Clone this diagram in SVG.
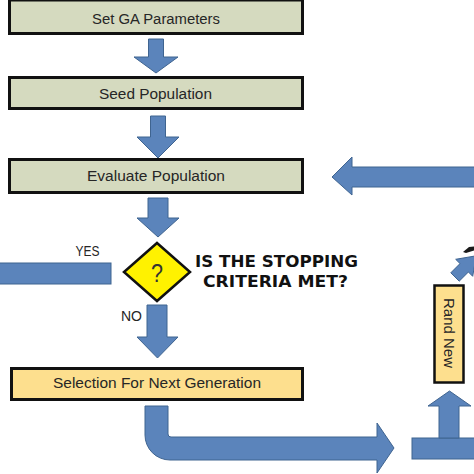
<svg xmlns="http://www.w3.org/2000/svg" width="474" height="474" viewBox="0 0 474 474">
<style>
.box{stroke:#111;stroke-width:3}
.g{fill:#D5DABF}
.o{fill:#FDDF8E}
.arr{fill:#5B84BB;stroke:#3F6490;stroke-width:1;stroke-linejoin:miter}
.lbl{font-family:"Liberation Sans",Arial,sans-serif;font-size:14px;fill:#262626;text-anchor:middle}
.q{font-family:"DejaVu Sans","Liberation Sans",sans-serif;font-weight:bold;font-size:15px;fill:#111;text-anchor:middle}
</style>
<rect width="474" height="474" fill="#ffffff"/>
<g id="connectors">
<polygon class="arr" points="148.5,39 163.5,39 163.5,57 178,57 156,73 134,57 148.5,57"/>
<polygon class="arr" points="150.5,116 165.5,116 165.5,137 179,137 158,158 137,137 150.5,137"/>
<polygon class="arr" points="148,198 168,198 168,218 179,218 158,237 137,218 148,218"/>
<polygon class="arr" points="147,305 167,305 167,337 178,337 157.5,358 137,337 147,337"/>
<polygon class="arr" points="475,167 352,167 352,157 332,177 352,195 352,187 475,187"/>
<rect class="arr" x="-1" y="263" width="112" height="21"/>
<path class="arr" d="M145,406 L168,406 L168,434 Q168,437 171,437 L377,437 L377,423 L394,448 L377,473 L377,460 L170,460 A25,25 0 0 1 145,435 Z"/>
<rect class="arr" x="412" y="438" width="63" height="21"/>
<polygon class="arr" points="439,438 459,438 459,406 471,406 449.5,391 428,406 439,406"/>
<polygon class="arr" points="459.2,281.2 450.8,272.8 460,263.6 455.7,259.3 476.2,255.8 472.7,276.3 468.4,272"/>
<polygon points="463,252 469,247 474,246.5 474,250.5 466,253" fill="#1a1a1a"/>
</g>
<g id="n1"><rect class="box g" x="9.5" y="0" width="293" height="33.5"/><text class="lbl" x="156" y="24" textLength="128" lengthAdjust="spacingAndGlyphs">Set GA Parameters</text></g>
<g id="n2"><rect class="box g" x="9.5" y="77.5" width="293" height="31"/><text class="lbl" x="155.5" y="98.5" textLength="113" lengthAdjust="spacingAndGlyphs">Seed Population</text></g>
<g id="n3"><rect class="box g" x="9.5" y="159.5" width="293" height="33"/><text class="lbl" x="156" y="181" textLength="138" lengthAdjust="spacingAndGlyphs">Evaluate Population</text></g>
<g id="n4"><polygon points="157,243 190,272 157,301 124,272" fill="#FFF200" stroke="#111" stroke-width="2.5"/><text x="157" y="281.5" font-family="Liberation Sans,Arial,sans-serif" font-size="26" fill="#333" text-anchor="middle" textLength="12" lengthAdjust="spacingAndGlyphs">?</text></g>
<g id="q"><text class="q" x="276.5" y="266.5" textLength="163" lengthAdjust="spacingAndGlyphs">IS THE STOPPING</text><text class="q" x="275.5" y="287" textLength="145" lengthAdjust="spacingAndGlyphs">CRITERIA MET?</text></g>
<g id="yes"><text class="lbl" x="87.5" y="256" font-size="12" textLength="24" lengthAdjust="spacingAndGlyphs">YES</text></g>
<g id="no"><text class="lbl" x="131.5" y="321" font-size="12" textLength="21" lengthAdjust="spacingAndGlyphs">NO</text></g>
<g id="n5"><rect class="box o" x="11.5" y="368.5" width="291" height="31"/><text class="lbl" x="157" y="388" textLength="208" lengthAdjust="spacingAndGlyphs">Selection For Next Generation</text></g>
<g id="n6"><rect class="o" x="434.5" y="285.5" width="29" height="97" stroke="#111" stroke-width="2.5"/><text class="lbl" transform="translate(444,333) rotate(90)" x="0" y="0" font-size="15" textLength="70" lengthAdjust="spacingAndGlyphs">Rand New</text></g>
</svg>
